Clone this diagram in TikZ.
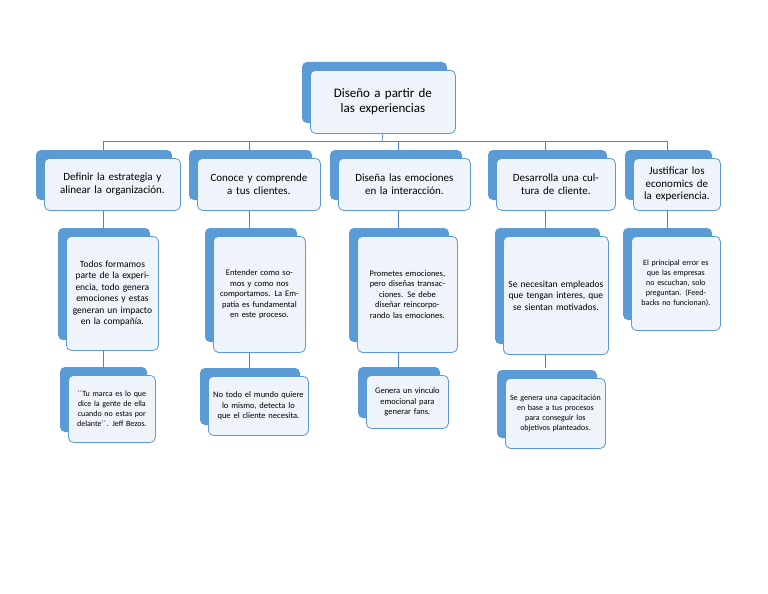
\documentclass[tikz,border=0pt]{standalone}
\usepackage{fontspec}
\setmainfont{Carlito}
\definecolor{bk}{HTML}{5B9BD5}
\definecolor{fr}{HTML}{EEF4FA}
\definecolor{ln}{HTML}{4A86C0}
\newcommand{\cb}[7]{%
  \fill[bk,rounded corners=5pt] (#2-8,#3-8) rectangle (#4-8,#5-10);
  \node[draw=bk,fill=fr,rounded corners=5pt,line width=0.8pt,inner sep=0pt,
    minimum width={#4-#2},minimum height={#5-#3},anchor=north west,
    text width={#4-#2-8},align=center,font=#7] (#1) at (#2,#3) {#6};}
\begin{document}
\begin{tikzpicture}[x=1pt,y=-1pt]
\useasboundingbox (0,0) rectangle (768,594);
\fill[white] (0,0) rectangle (768,594);
\tikzset{con/.style={draw=ln,line width=0.7pt}}
\cb{t}{310}{70}{455}{133}{Diseño a partir de las experiencias}{\fontsize{13}{15}\selectfont}
\cb{a}{44}{158}{180}{210}{Definir la estrategia y alinear la organización.}{\fontsize{11}{13}\selectfont}
\cb{b}{197}{158}{320}{210}{Conoce y comprende a tus clientes.}{\fontsize{11}{13}\selectfont}
\cb{c}{338}{158}{470}{210}{Diseña las emociones en la interacción.}{\fontsize{11}{13}\selectfont}
\cb{d}{496}{158}{615}{210}{Desarrolla una cultura de cliente.}{\fontsize{11}{13}\selectfont}
\cb{e}{633}{158}{720}{210}{Justificar los economics de la experiencia.}{\fontsize{11}{12.5}\selectfont}
\cb{a2}{66}{236}{158}{350}{Todos formamos parte de la experiencia, todo genera emociones y estas generan un impacto en la compañía.}{\fontsize{9.5}{11.5}\selectfont}
\cb{b2}{213}{236}{305}{352}{Entender como somos y como nos comportamos. La Empatía es fundamental en este proceso.}{\fontsize{8.5}{10.5}\selectfont}
\cb{c2}{357}{236}{457}{352}{Prometes emociones, pero diseñas transacciones. Se debe diseñar reincorporando las emociones.}{\fontsize{8.5}{10.5}\selectfont}
\cb{d2}{503}{236}{608}{354}{Se necesitan empleados que tengan interes, que se sientan motivados.}{\fontsize{9.5}{11.5}\selectfont}
\cb{e2}{631}{236}{720}{330}{El principal error es que las empresas no escuchan, solo preguntan. (Feedbacks no funcionan).}{\fontsize{8}{10}\selectfont}
\cb{a3}{68}{375}{155}{442}{´´Tu marca es lo que dice la gente de ella cuando no estas por delante´´. Jeff Bezos.}{\fontsize{8}{10}\selectfont}
\cb{b3}{208}{376}{308}{435}{No todo el mundo quiere lo mismo, detecta lo que el cliente necesita.}{\fontsize{8.5}{10.5}\selectfont}
\cb{c3}{366}{375}{448}{428}{Genera un vinculo emocional para generar fans.}{\fontsize{8.5}{10.5}\selectfont}
\cb{d3}{505}{378}{605}{448}{Se genera una capacitación en base a tus procesos para conseguir los objetivos planteados.}{\fontsize{8}{10}\selectfont}
\coordinate (h) at (382,141);
\draw[con] (t.south) -- (h);
\foreach \n/\x in {a/103,b/249,c/398,d/545,e/667}{
  \draw[con] (h) -- (\x,141) -- (\x,150);
  \draw[con] (\n.south -| \x,0) -- (\x,228);
}
\foreach \n/\x in {a2/103,b2/249,c2/398,d2/545}{
  \draw[con] (\n.south -| \x,0) -- (\x,368);
}
\end{tikzpicture}
\end{document}
